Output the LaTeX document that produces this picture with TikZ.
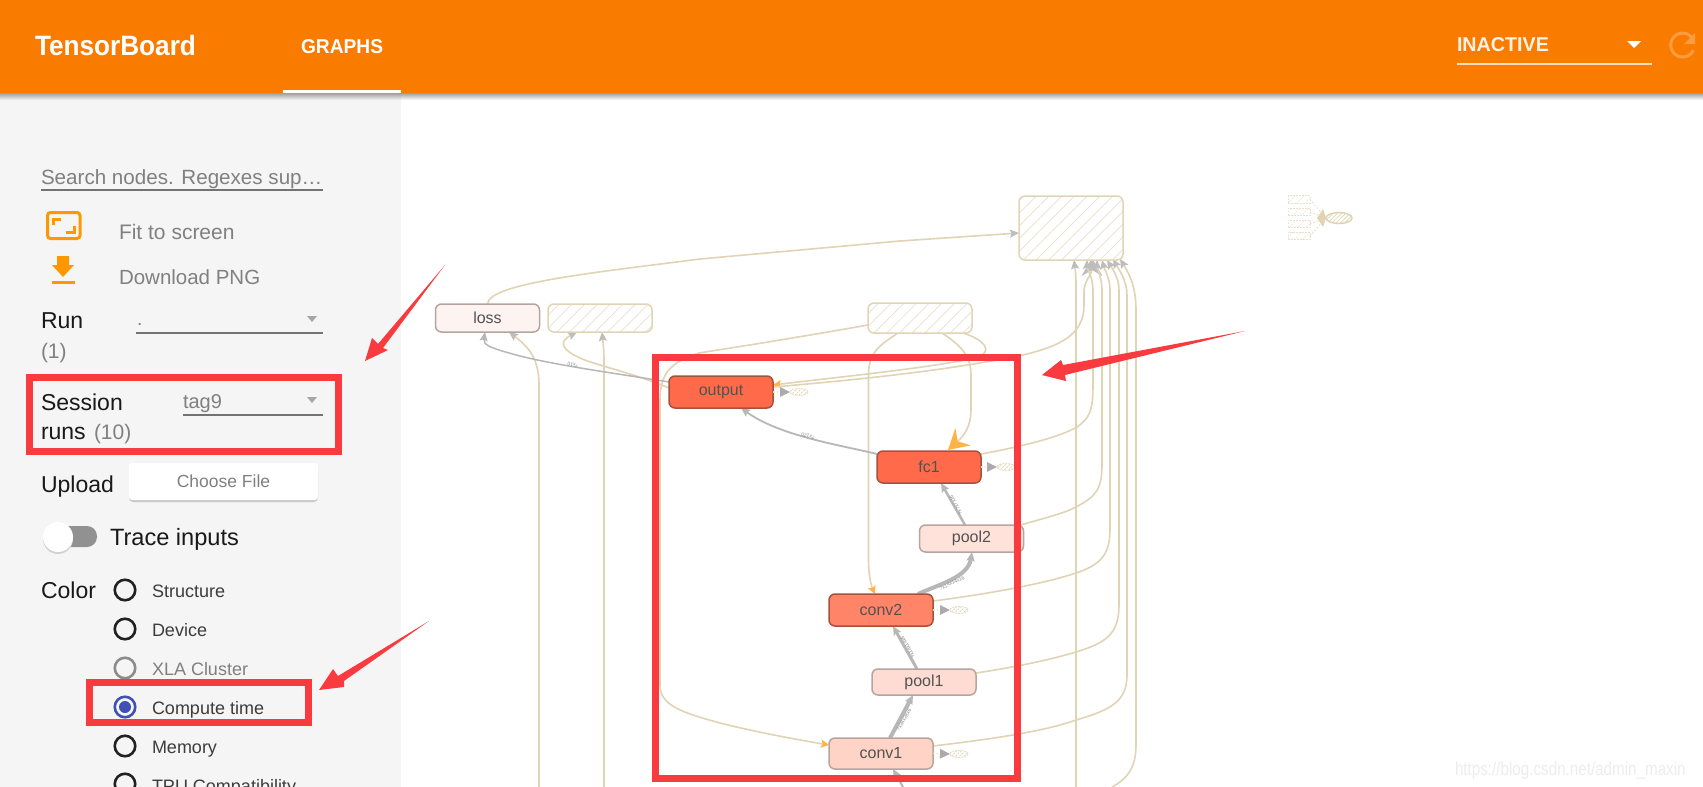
\documentclass[tikz,border=0pt]{standalone}
\usepackage{fontspec}
\setmainfont{Liberation Sans}
\usetikzlibrary{arrows.meta,patterns.meta,shapes.geometric}
\newcommand{\myfs}[1]{\fontsize{#1}{#1}\selectfont}
\pgfdeclarelayer{pagebg}
\pgfdeclarelayer{edges}
\pgfsetlayers{pagebg,edges,main}
\definecolor{hdr}{HTML}{F97C00}
\definecolor{side}{HTML}{F5F5F5}
\definecolor{beige}{HTML}{E0D4B5}
\definecolor{hatchc}{HTML}{E9E0CB}
\definecolor{tipg}{HTML}{BDBDBD}
\definecolor{edgeg}{HTML}{B8B6B6}
\definecolor{tipo}{HTML}{FFB347}
\definecolor{redm}{HTML}{F93A3E}
\definecolor{icono}{HTML}{FF9800}
\definecolor{txtg}{HTML}{808080}
\definecolor{txtd}{HTML}{3C3C3C}
\definecolor{lineg}{HTML}{737373}
\definecolor{bdark}{HTML}{A5523C}
\definecolor{blight}{HTML}{B6A59E}
\definecolor{fhot}{HTML}{FF6B4A}
\definecolor{fconvb}{HTML}{FF8468}
\definecolor{fpoola}{HTML}{FFDCD3}
\definecolor{fpoolb}{HTML}{FFE3DB}
\definecolor{fconva}{HTML}{FFD3C6}
\definecolor{floss}{HTML}{FDF4F1}
\definecolor{radioblue}{HTML}{3F51B5}
\tikzset{
  x=1pt,y=-1pt,
  lbl/.style={anchor=base west,inner sep=0pt,outer sep=0pt},
  opnode/.style={draw=#1,rounded corners=6pt,line width=1.5pt,inner sep=0pt,outer sep=0pt,
    text=black!68,font={\myfs{16}},minimum height=28pt,minimum width=104pt},
  hatchnode/.style={draw=beige,rounded corners=6pt,line width=1.5pt,inner sep=0pt,outer sep=0pt,
    preaction={fill=white},pattern={Lines[angle=45,distance=9pt,line width=.7pt]},pattern color=hatchc,
    minimum height=28pt,minimum width=104pt},
  auxell/.style={ellipse,draw=hatchc,line width=1pt,dash pattern=on 2pt off 1pt,inner sep=0pt,outer sep=0pt,minimum width=18pt,minimum height=7pt,
    pattern={Lines[angle=45,distance=3pt,line width=.7pt]},pattern color=beige},
  auxrect/.style={draw=hatchc,dash pattern=on 1.5pt off 1.5pt,line width=1pt,inner sep=0pt,outer sep=0pt,
    minimum width=22pt,minimum height=7.5pt,pattern={Lines[angle=45,distance=6pt,line width=.6pt]},pattern color=hatchc},
  bedge/.style={draw=beige,line width=1.6pt},
  gedge/.style={draw=edgeg,line width=#1},
  gtip/.style={-{Stealth[length=9pt,width=8pt,inset=1.5pt,color=tipg]}},
  gtiph/.style={-{Stealth[length=9pt,width=8pt,inset=1.5pt,color=edgeg]}},
  otip/.style={-{Stealth[length=8pt,width=8pt,inset=1.5pt,color=tipo]}},
  auxedge/.style={draw=hatchc,line width=1.2pt,dash pattern=on 1.5pt off 2pt,
    -{Triangle[length=10pt,width=9.5pt,color=black!33]}},
  redbox/.style={draw=redm,line width=7pt,inner sep=0pt,outer sep=0pt},
  elab/.style={inner sep=0pt,outer sep=0pt,text=black!45,font={\myfs{5}}},
  radio/.style={circle,draw=#1,line width=2.6pt,inner sep=0pt,outer sep=0pt,minimum size=20.5pt},
}
\begin{document}
\begin{tikzpicture}
\useasboundingbox (0,0) rectangle (1703,787);
\clip (0,0) rectangle (1703,787);
\begin{pgfonlayer}{pagebg}
\fill[white] (0,0) rectangle (1703,787);
\end{pgfonlayer}
% sidebar and header
\fill[side] (0,93) rectangle (401,787);
\shade[top color=black!38,bottom color=side] (0,93) rectangle (401,100);
\shade[top color=black!38,bottom color=white] (401,93) rectangle (1703,100);
\fill[hdr] (0,0) rectangle (1703,93);
\fill[white] (283,90) rectangle (401,93);
\node[lbl,text=white,font={\bfseries\myfs{28}}] (brand) at (35,55) {\scalebox{0.935}[1]{TensorBoard}};
\node[lbl,text=white,font={\bfseries\myfs{20}}] (graphs) at (301,53) {\scalebox{0.96}[1]{GRAPHS}};
\node[lbl,text=white!90!hdr,font={\bfseries\myfs{20}}] (inactive) at (1457,51) {\scalebox{0.985}[1]{INACTIVE}};
\draw[line width=1.5pt,draw=white!75!hdr] (1457,64) -- (1652,64);
\fill[white] (1627,41) -- (1641,41) -- (1634,48) -- cycle;
\draw[line width=3pt,draw=white!25!hdr] (1693.5,40) arc[start angle=25,end angle=335,radius=12pt];
\fill[white!25!hdr] (1695,33) -- (1695,44) -- (1684,44) -- cycle;
% graph nodes
\node[hatchnode,minimum height=64pt] (big) at (1071,228) {};
\node[opnode=blight,fill=floss] (loss) at (487.5,318) {loss};
\node[hatchnode] (h1) at (600,318) {};
\node[hatchnode,minimum height=30pt] (h2) at (920,318) {};
\node[opnode=bdark,fill=fhot,minimum height=32pt] (output) at (721,392) {output};
\node[opnode=bdark,fill=fhot,minimum height=32pt] (fc1) at (929,467) {fc1};
\node[opnode=blight,fill=fpoolb,minimum height=27pt] (pool2) at (971.5,538.5) {pool2};
\node[opnode=bdark,fill=fconvb,minimum height=32pt] (conv2) at (881,610) {conv2};
\node[opnode=blight,fill=fpoola,minimum height=26pt] (pool1) at (924,682) {pool1};
\node[opnode=blight,fill=fconva,minimum height=31pt] (conv1) at (881,753.5) {conv1};
\coordinate (bl) at (539,787);
\coordinate (bh) at (604,787);
\coordinate (bc) at (903,787);
\coordinate (r1) at (1076,787);
\coordinate (r8) at (1112,787);
\begin{pgfonlayer}{edges}
% beige edges
\draw[bedge,gtip] (loss.north) .. controls (488,283) and (600,272) .. (700,259) -- (900,241) -- ([yshift=-5pt]big.west);
\draw[bedge,gtip] (bl) -- (539,385) .. controls (539,360) and (530,348) .. ([xshift=21.5pt]loss.south);
\draw[bedge,gtip] (bh) -- (604,360) .. controls (604,350) and (603,342) .. ([xshift=2pt]h1.south);
\draw[bedge,gtip] ([yshift=4pt]output.west) .. controls (630,372) and (595,365) .. (580,358) .. controls (562,350) and (558,342) .. ([xshift=-23pt]h1.south);
\draw[bedge,otip] ([yshift=-7pt]h2.west) .. controls (800,337) and (750,345) .. (699,353) .. controls (672,362) and (660,372) .. (660,400) -- (660,685) .. controls (660,705) and (680,712) .. (720,723) .. controls (760,733) and (800,740) .. ([yshift=8.5pt]conv1.west);
\draw[bedge,otip] ([xshift=-22pt]h2.south) .. controls (880,345) and (868.5,352) .. (868.5,375) -- (868.5,560) .. controls (868.5,575) and (871,585) .. ([xshift=-6pt]conv2.north);
\draw[bedge,-{Stealth[length=20pt,width=23pt,inset=7pt,color=tipo]}] ([xshift=22pt]h2.south) .. controls (960,345) and (971,355) .. (971,375) -- (971,410) .. controls (971,425) and (965,435) .. ([xshift=19pt,yshift=1pt]fc1.north);
\draw[bedge,otip] ([xshift=43pt]h2.south) .. controls (985,340) and (995,352) .. (975,358) .. controls (930,368) and (830,378) .. ([yshift=7pt]output.east);
\draw[bedge,-{Stealth[length=18pt,width=21pt,inset=6pt,color=tipg]}] ([yshift=5pt]output.east) .. controls (880,378) and (960,368) .. (1023,355) .. controls (1060,346) and (1084,335) .. (1084,305) -- (1084,292) .. controls (1084,280) and (1092,275) .. ([xshift=21pt,yshift=2pt]big.south);
\draw[bedge,gtip] (r1) -- (1076,285) .. controls (1076,275) and (1075,268) .. ([xshift=3pt]big.south);
\draw[bedge,gtip] ([yshift=13pt]fc1.east) .. controls (1020,447) and (1060,437) .. (1077,427) .. controls (1090,418) and (1093,410) .. (1093,385) -- (1093,290) .. controls (1093,278) and (1087,268) .. ([xshift=16pt]big.south);
\draw[bedge,gtip] ([xshift=-3pt]pool2.north east) .. controls (1045,518) and (1065,513) .. (1076,507) .. controls (1095,497) and (1102,490) .. (1102,465) -- (1102,290) .. controls (1102,278) and (1097,268) .. ([xshift=26pt]big.south);
\draw[bedge,gtip] ([yshift=9pt]conv2.east) .. controls (980,595) and (1040,585) .. (1076,573) .. controls (1100,565) and (1110,555) .. (1110,530) -- (1110,290) .. controls (1110,278) and (1104,268) .. ([xshift=31pt]big.south);
\draw[bedge,gtip] ([yshift=9pt]pool1.east) .. controls (1010,668) and (1050,660) .. (1076,652) .. controls (1105,643) and (1119,635) .. (1119,605) -- (1119,290) .. controls (1119,278) and (1112,268) .. ([xshift=36pt]big.south);
\draw[bedge,gtip] ([yshift=7.5pt]conv1.east) .. controls (975,741) and (1040,733) .. (1076,720) .. controls (1110,710) and (1127,702) .. (1127,675) -- (1127,295) .. controls (1127,280) and (1118,268) .. ([xshift=42pt,yshift=1pt]big.south);
\draw[bedge,gtip] (r8) .. controls (1125,780) and (1136,770) .. (1136,745) -- (1136,310) .. controls (1136,285) and (1128,272) .. ([xshift=49pt,yshift=1pt]big.south);
% grey dataflow edges
\draw[gedge=1.5pt,gtiph] ([yshift=10pt]output.west) .. controls (620,374) and (560,366) .. (520,356) .. controls (490,348) and (483,345) .. ([xshift=-2.5pt]loss.south);
\draw[gedge=1.8pt,gtiph] ([yshift=13pt]fc1.west) .. controls (840,445) and (780,436) .. ([xshift=20pt]output.south);
\draw[gedge=2.5pt,gtiph] ([xshift=-6.5pt]pool2.north) -- ([xshift=12pt]fc1.south);
\draw[gedge=4pt,gtiph] ([xshift=37pt]conv2.north) .. controls (940,584) and (968,577) .. ([xshift=.5pt]pool2.south);
\draw[gedge=3pt,gtiph] ([xshift=-7pt]pool1.north) -- ([xshift=12pt]conv2.south);
\draw[gedge=4pt,gtiph] ([xshift=9pt]conv1.north) -- ([xshift=-11pt]pool1.south);
\draw[gedge=2pt,gtiph] (bc) -- ([xshift=12pt]conv1.south);
\end{pgfonlayer}
% edge shape labels
\node[elab,rotate=170] (l1) at (573,365) {?x10};
\node[elab,rotate=165] (l2) at (808,436) {?x120};
\node[elab,rotate=120] (l3) at (956,505) {?x7x7x16};
\node[elab,rotate=25] (l4) at (952,583) {?x14x14x16};
\node[elab,rotate=120] (l5) at (908,647) {?x14x14x6};
\node[elab,rotate=60] (l6) at (904,720) {?x28x28x6};
% auxiliary summary ellipses
\node[auxell] (ao) at (799,392) {};
\node[auxell] (af) at (1006,467) {};
\node[auxell] (ac2) at (959,610) {};
\node[auxell] (ac1) at (959,754) {};
\draw[auxedge] (output.east) -- (ao.west);
\draw[auxedge] (fc1.east) -- (af.west);
\draw[auxedge] (conv2.east) -- (ac2.west);
\draw[auxedge] (conv1.east) -- (ac1.west);
% detached group, top right
\node[auxrect] (q1) at (1299,199.5) {};
\node[auxrect] (q2) at (1299,212) {};
\node[auxrect] (q3) at (1299,224) {};
\node[auxrect] (q4) at (1299,236) {};
\node[auxell,draw=beige,solid,line width=1.5pt,minimum width=26pt,minimum height=11pt] (qe) at (1339,218) {};
\foreach \q in {q1,q2,q3,q4}{\draw[draw=hatchc,line width=1pt,dash pattern=on 1.5pt off 2pt] (\q.east) -- (qe.west);}
\fill[beige] (1317,218) -- (1323,209) -- (1326,218) -- (1323,227) -- cycle;
% sidebar content
\node[lbl,text=txtg,font={\myfs{20.6}}] (search) at (41,184) {Search nodes. Regexes sup…};
\draw[draw=lineg,line width=1.5pt] (41,190) -- (323,190);
\draw[draw=icono,line width=3pt,rounded corners=3pt] (47.5,212.5) rectangle (80,238.5);
\draw[draw=icono,line width=3pt] (53,225) -- (53,219) -- (61,219);
\draw[draw=icono,line width=3pt] (66,232) -- (74,232) -- (74,226);
\node[lbl,text=txtg,font={\myfs{21}}] (fit) at (119,239.5) {Fit to screen};
\fill[icono] (57,256) -- (69,256) -- (69,265) -- (74,265) -- (63,277) -- (52,265) -- (57,265) -- cycle;
\fill[icono] (52,281) rectangle (75,284);
\node[lbl,text=txtg,font={\myfs{20.5}}] (dl) at (119,284) {Download PNG};
\node[lbl,text=black!90,font={\myfs{23}}] (run) at (41,328) {Run};
\node[lbl,text=txtg,font={\myfs{21}}] (runn) at (41,358) {(1)};
\node[lbl,text=txtg,font={\myfs{19}}] (dot) at (137,325) {.};
\draw[draw=lineg,line width=1.5pt] (136,333) -- (323,333);
\fill[black!35] (307,316) -- (317,316) -- (312,322) -- cycle;
\node[lbl,text=black!90,font={\myfs{23}}] (sess) at (41,410) {Session};
\node[lbl,text=black!90,font={\myfs{23}}] (runs) at (41,439) {runs};
\node[lbl,text=txtg,font={\myfs{21}}] (sessn) at (94,439) {(10)};
\node[lbl,text=txtg,font={\myfs{20}}] (tag) at (183,408) {tag9};
\draw[draw=lineg,line width=1.5pt] (183,415) -- (323,415);
\fill[black!35] (307,397) -- (317,397) -- (312,403) -- cycle;
\node[lbl,text=black!90,font={\myfs{23}}] (upl) at (41,492) {Upload};
\fill[black!22,rounded corners=4pt] (129,465) rectangle (318,502);
\node[fill=white,rounded corners=3pt,inner sep=0pt,minimum width=189pt,minimum height=37pt,text=txtg,font={\myfs{17.5}}] (btn) at (223.5,481.5) {\raisebox{-0.7pt}{Choose File}};
\fill[black!43,rounded corners=10pt] (55,526) rectangle (97,547);
\fill[black!18] (58,539) circle[radius=15pt];
\node[circle,fill=white,inner sep=0pt,minimum size=30pt] (knob) at (58,537) {};
\node[lbl,text=black!90,font={\myfs{23.6}}] (trace) at (110,545.5) {Trace inputs};
\node[lbl,text=black!90,font={\myfs{23}}] (col) at (41,598) {Color};
\node[radio=black!87] (r-a) at (125,590) {};
\node[radio=black!87] (r-b) at (125,629) {};
\node[radio=black!45] (r-c) at (125,668) {};
\node[radio=radioblue] (r-d) at (125,707) {};
\fill[radioblue] (r-d.center) circle[radius=6pt];
\node[radio=black!87] (r-e) at (125,746) {};
\node[radio=black!87] (r-f) at (125,784) {};
\node[lbl,text=txtd,font={\myfs{18}}] (t-a) at (152,597) {Structure};
\node[lbl,text=txtd,font={\myfs{18}}] (t-b) at (152,636) {Device};
\node[lbl,text=txtg,font={\myfs{18}}] (t-c) at (152,675) {XLA Cluster};
\node[lbl,text=txtd,font={\myfs{18}}] (t-d) at (152,714) {Compute time};
\node[lbl,text=txtd,font={\myfs{18}}] (t-e) at (152,753) {Memory};
\node[lbl,text=txtd,font={\myfs{18}}] (t-f) at (152,792) {TPU Compatibility};
% watermark
\node[lbl,text=black!7,font={\myfs{19}}] (wm) at (1455,775) {\scalebox{0.8}[1]{https://blog.csdn.net/admin\_maxin}};
% red annotations
\node[redbox,minimum width=309pt,minimum height=74pt] (mark1) at (184,414.5) {};
\node[redbox,minimum width=219pt,minimum height=40pt] (mark2) at (199,702.5) {};
\node[redbox,minimum width=362pt,minimum height=421pt] (mark3) at (836.5,568) {};
\fill[redm] (365,361) -- (372,338) -- (378,344) -- (445,265) -- (383,348) -- (388,350) -- cycle;
\fill[redm] (319,690) -- (333,669) -- (338,676) -- (429,621) -- (344,681) -- (344,687) -- cycle;
\fill[redm] (1042,375) -- (1061,360) -- (1063,365) -- (1245,331) -- (1065,375) -- (1066,381) -- cycle;
\end{tikzpicture}
\end{document}
